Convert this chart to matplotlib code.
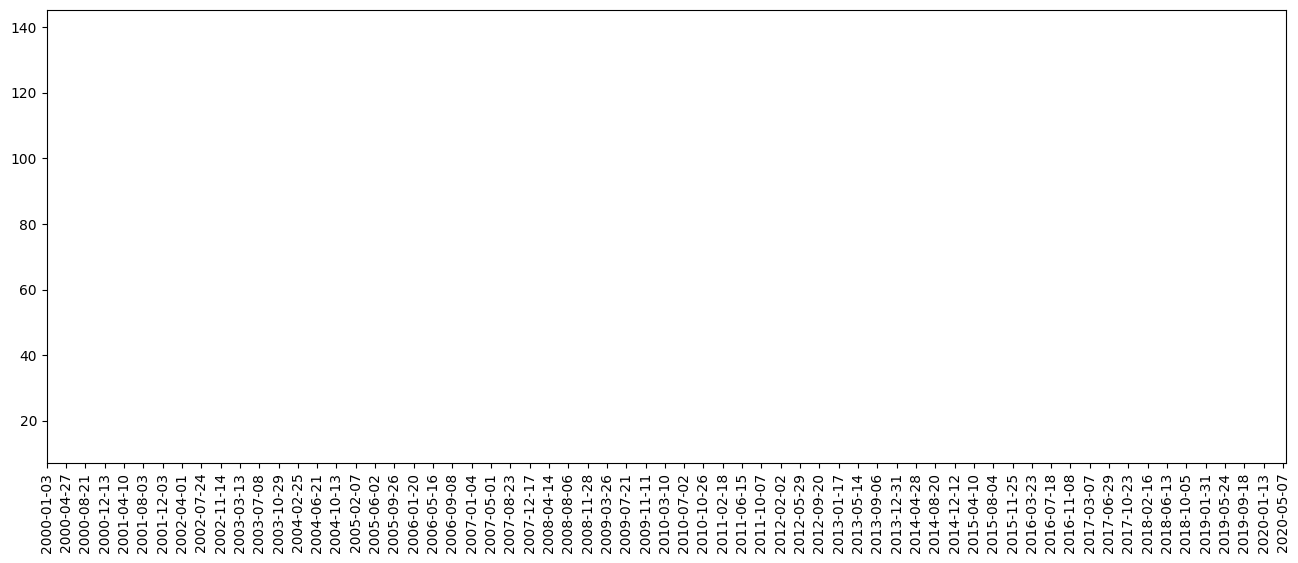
import matplotlib
matplotlib.use('Agg')
import matplotlib.pyplot as plt

# tick labels, one every 80 rows of the (daily) series
tick_labels = [
	'2000-01-03', '2000-04-27', '2000-08-21', '2000-12-13', '2001-04-10', '2001-08-03',
	'2001-12-03', '2002-04-01', '2002-07-24', '2002-11-14', '2003-03-13', '2003-07-08',
	'2003-10-29', '2004-02-25', '2004-06-21', '2004-10-13', '2005-02-07', '2005-06-02',
	'2005-09-26', '2006-01-20', '2006-05-16', '2006-09-08', '2007-01-04', '2007-05-01',
	'2007-08-23', '2007-12-17', '2008-04-14', '2008-08-06', '2008-11-28', '2009-03-26',
	'2009-07-21', '2009-11-11', '2010-03-10', '2010-07-02', '2010-10-26', '2011-02-18',
	'2011-06-15', '2011-10-07', '2012-02-02', '2012-05-29', '2012-09-20', '2013-01-17',
	'2013-05-14', '2013-09-06', '2013-12-31', '2014-04-28', '2014-08-20', '2014-12-12',
	'2015-04-10', '2015-08-04', '2015-11-25', '2016-03-23', '2016-07-18', '2016-11-08',
	'2017-03-07', '2017-06-29', '2017-10-23', '2018-02-16', '2018-06-13', '2018-10-05',
	'2019-01-31', '2019-05-24', '2019-09-18', '2020-01-13', '2020-05-07',
]
tick_step = 80
n_rows = 5135
y_range = [7.2, 145.1]

fig = plt.figure(figsize=(12.98, 5.63), dpi=100)
ax = fig.add_axes([0.036, 0.1776, 0.955, 0.804])

ax.set_xlim(0, n_rows - 1)
ax.set_ylim(y_range[0], y_range[1])
ax.set_xticks([i * tick_step for i in range(len(tick_labels))])
ax.set_xticklabels(tick_labels, rotation=90)
ax.set_yticks([20, 40, 60, 80, 100, 120, 140])

fig.savefig('out.png', dpi=100)
